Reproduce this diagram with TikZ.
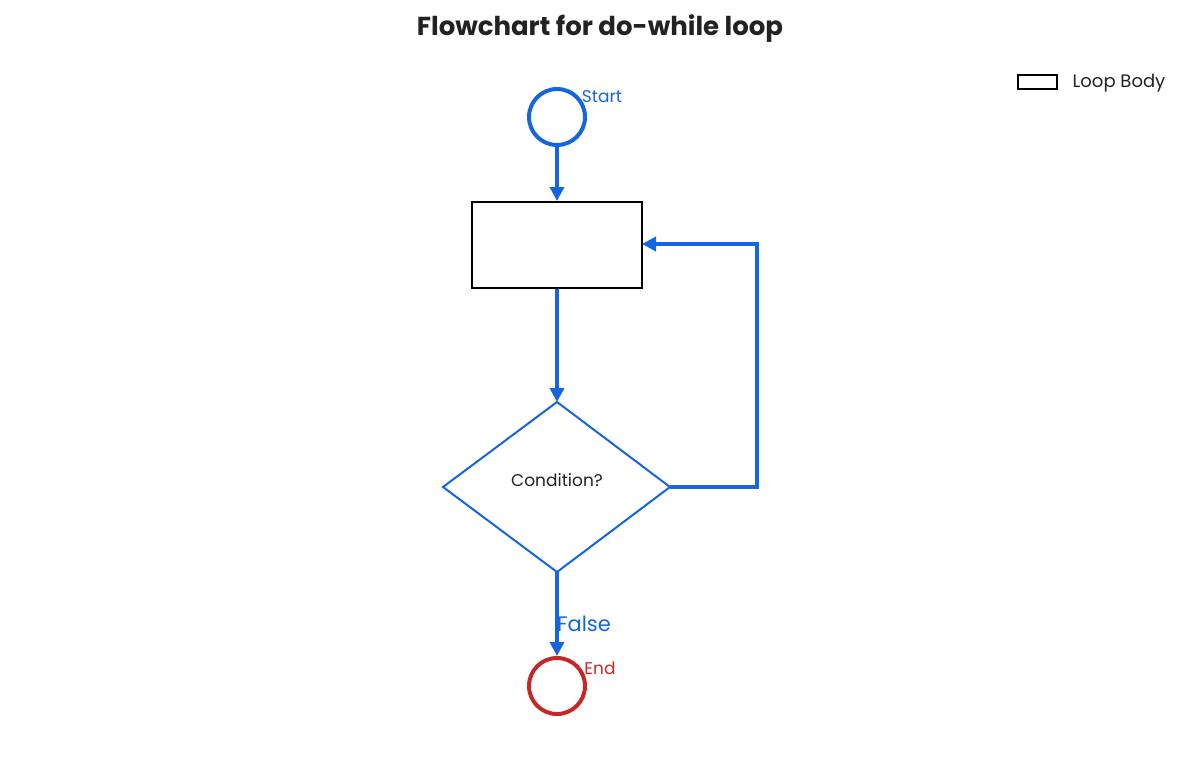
\documentclass[tikz,border=0pt]{standalone}
\usepackage{fontspec}
\setmainfont{Poppins}
\usetikzlibrary{arrows.meta}
\definecolor{fblue}{HTML}{1565E0}
\definecolor{fred}{HTML}{C62828}
\definecolor{ftext}{HTML}{222222}
\begin{document}
\begin{tikzpicture}[x=1pt,y=-1pt,
  flow/.style={draw=fblue,line width=4pt,-{Triangle[length=14pt,width=14pt]}},
  term/.style={circle,minimum size=56pt,inner sep=0pt,line width=4pt}]
\useasboundingbox (0,0) rectangle (1200,763);
\node[font=\bfseries\fontsize{26}{30}\selectfont,text=ftext] (title) at (600,29) {Flowchart for do-while loop};
\node[term,draw=fblue] (start) at (557,117) {};
\node[text=fblue,font=\fontsize{17}{20}\selectfont] (sl) at (602,97) {Start};
\node[draw=black,line width=2pt,minimum width=170pt,minimum height=86pt] (body) at (557,245) {};
\draw[fblue,line width=2pt] (557,402) -- (670,487) -- (557,572) -- (443,487) -- cycle;
\coordinate (dtop) at (557,402);
\coordinate (dright) at (670,487);
\coordinate (dbot) at (557,572);
\node[text=ftext,font=\fontsize{17}{20}\selectfont] (cond) at (557,480) {Condition?};
\node[term,draw=fred] (end) at (557,686) {};
\node[text=fred,font=\fontsize{17}{20}\selectfont] (el) at (600,668) {End};
\draw[flow] (start) -- (body);
\draw[flow] (body) -- (dtop);
\coordinate (bodyr) at (642,244);
\draw[flow] (dright) -- (757,487) -- (757,244) -- (bodyr);
\draw[flow] (dbot) -- (end);
\node[text=fblue,font=\fontsize{21}{24}\selectfont] (false) at (584,624) {False};
\node[draw=black,line width=2pt,minimum width=39pt,minimum height=14pt,inner sep=0pt] (leg) at (1037.5,82) {};
\node[text=ftext,font=\fontsize{18}{21}\selectfont] (legl) at (1119,83) {Loop Body};
\end{tikzpicture}
\end{document}
